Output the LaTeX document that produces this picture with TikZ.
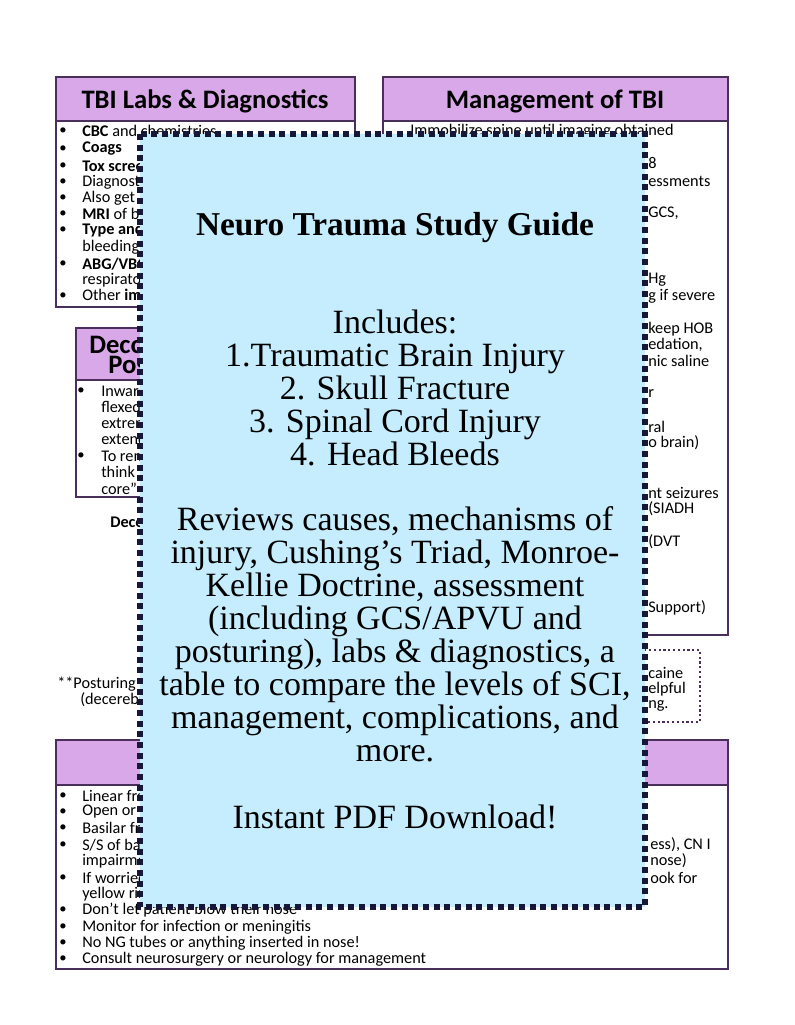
\documentclass[tikz,border=0pt]{standalone}
\usepackage{fontspec}
\setmainfont{Liberation Serif}
\newfontfamily\carlf{Carlito}
\definecolor{boxline}{HTML}{4A2E5C}
\definecolor{headpurple}{HTML}{D8A8E8}
\definecolor{overfill}{HTML}{C5EDFD}
\definecolor{overline}{HTML}{16183A}
\begin{document}
\begin{tikzpicture}[x=0.75pt,y=-0.75pt,
  boxframe/.style={draw=boxline,line width=1.6pt},
  headfill/.style={fill=headpurple,draw=boxline,line width=1.6pt},
  htitle/.style={font=\carlf\bfseries\fontsize{20}{22}\selectfont,inner sep=0pt},
  body/.style={font=\carlf\fontsize{12.2}{13}\selectfont,anchor=west,inner sep=0pt},
  bul/.style={font=\carlf\fontsize{11}{12}\selectfont,inner sep=0pt},
  big/.style={font=\fontsize{25.5}{24.75}\selectfont,align=center,inner sep=0pt}]
\path[use as bounding box,fill=white] (0,0) rectangle (794,1025);
% TBI labs
\draw[boxframe,fill=white] (56,77) rectangle (355,307);
\draw[headfill] (56,77) rectangle (355,121);
\node[htitle] (h1) at (205,101) {TBI Labs \& Diagnostics};
\foreach \y/\t in {131/{\textbf{CBC} and chemistries},149/{\textbf{Coags}},166/{\textbf{Tox screen}},182/{Diagnostic},198/{Also get},214/{\textbf{MRI} of brain},230/{\textbf{Type and} screen},247/{bleeding},264/{\textbf{ABG/VBG}},280/{respiratory},296/{Other \textbf{imaging}}}{
  \node[body] at (82,\y) {\t};}
\foreach \y in {131,149,166,182,198,214,230,264,296}{\node[bul] at (63,\y) {•};}
% Management
\draw[boxframe,fill=white] (383,77) rectangle (728,635);
\draw[headfill] (383,77) rectangle (728,121);
\node[htitle] (h2) at (555,101) {Management of TBI};
\node[body] at (410,131) {Immobilize spine until imaging obtained};
\foreach \y/\t in {163/8,181/essments,213/{GCS,},280/Hg,296/{g if severe},329/{keep HOB},345/{edation,},361/{nic saline},394/r,427/ral,443/{o brain)},493/{nt seizures},509/{(SIADH},542/{(DVT},608/{Support)}}{
  \node[body] at (648,\y) {\t};}
% Decorticate
\draw[boxframe,fill=white] (76,328) rectangle (250,497);
\draw[headfill] (76,328) rectangle (250,380);
\node[htitle,anchor=west] (h3) at (89,344) {Decorticate};
\node[htitle,anchor=west] at (108,366) {Posturing};
\foreach \y/\t in {391/Inward,407/flexed,423/extremities,439/extended,456/To remember,472/think,489/{core”}}{
  \node[body] at (101,\y) {\t};}
\node[bul] at (81,391) {•};\node[bul] at (81,456) {•};
\node[body,font=\carlf\bfseries\fontsize{12.2}{13}\selectfont] at (110,522) {Decerebrate};
\node[body] at (57,684) {**Posturing};
\node[body] at (80,700) {(decerebrate};
% dotted box
\draw[boxline,line width=1.6pt,dotted] (600,650) rectangle (700,722);
\foreach \y/\t in {673/caine,689/elpful,706/ng.}{\node[body] at (648,\y) {\t};}
% bottom box
\draw[boxframe,fill=white] (56,740) rectangle (728,969);
\draw[headfill] (56,740) rectangle (728,785);
\foreach \y/\t in {796/{Linear fracture},812/{Open or},828/{Basilar fracture},845/{S/S of basilar},861/{impairment},878/{If worried},894/{yellow ring},910/{Don’t let patient blow their nose},927/{Monitor for infection or meningitis},943/{No NG tubes or anything inserted in nose!},959/{Consult neurosurgery or neurology for management}}{
  \node[body] at (82,\y) {\t};}
\foreach \y in {796,812,828,845,878,910,927,943,959}{\node[bul] at (63,\y) {•};}
\foreach \y/\t in {845/{ess), CN I},861/{nose)},878/{ook for}}{\node[body] at (650,\y) {\t};}
% overlay
\draw[fill=overfill,draw=overline,line width=3.8pt,dash pattern=on 4.5pt off 3.5pt] (140,134) rectangle (645,907);
\node[big,font=\bfseries\fontsize{25}{24.75}\selectfont] (title) at (395,228) {Neuro Trauma Study Guide};
\node[big,anchor=north] (inc) at (395,310) {Includes:\\1.Traumatic Brain Injury\\2. Skull Fracture\\3. Spinal Cord Injury\\4. Head Bleeds};
\node[big,anchor=north] (rev) at (395,506) {Reviews causes, mechanisms of\\injury, Cushing’s Triad, Monroe-\\Kellie Doctrine, assessment\\(including GCS/APVU and\\posturing), labs \& diagnostics, a\\table to compare the levels of SCI,\\management, complications, and\\more.};
\node[big] (pdf) at (395,817) {Instant PDF Download!};
\end{tikzpicture}
\end{document}
